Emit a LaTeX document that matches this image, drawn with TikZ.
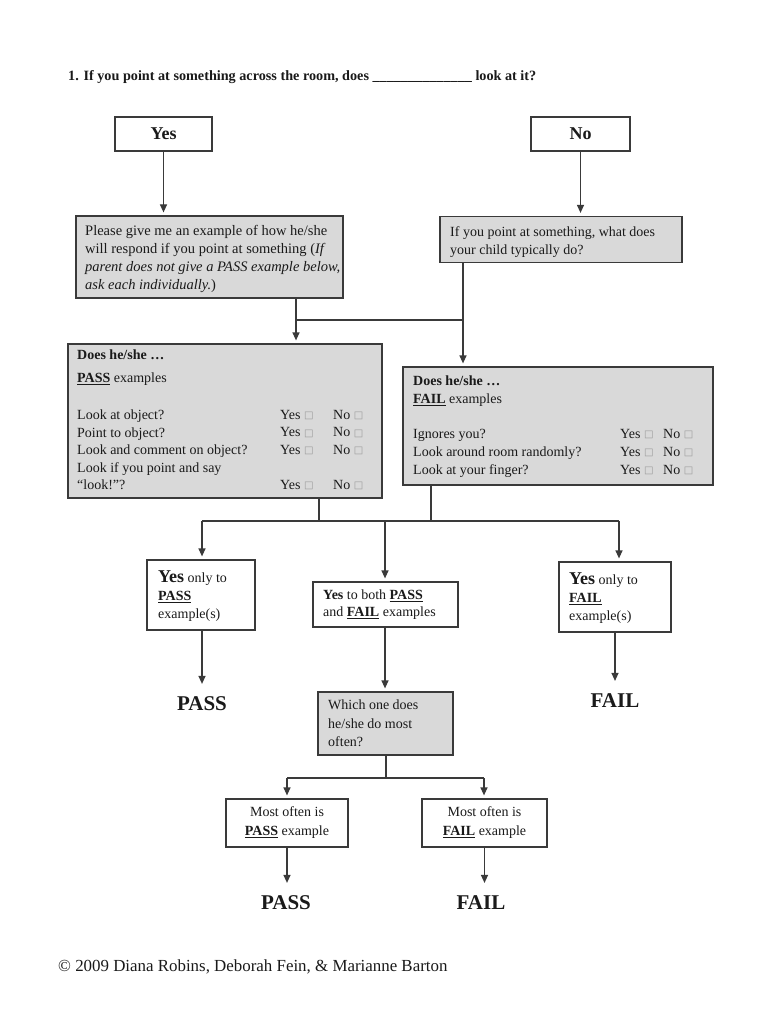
\documentclass[tikz,border=0pt]{standalone}
\usepackage{fontspec}
\setmainfont{Liberation Serif}
\newfontfamily\dvfont{DejaVu Sans}
\usetikzlibrary{arrows.meta}
\definecolor{linec}{HTML}{3A3A3A}
\definecolor{boxgray}{HTML}{D9D9D9}
\definecolor{textc}{HTML}{1A1A1A}
\definecolor{chkc}{HTML}{9A9A9A}
\newcommand\ckbox{\raisebox{0.8pt}{\dvfont\fontsize{10}{10}\selectfont\textcolor{chkc}{□}}}
\newcommand\ulb[1]{\underline{\textbf{#1}}}
\begin{document}
\begin{tikzpicture}[x=1pt,y=-1pt,
 box/.style={draw=linec, line width=1.2pt, fill=white, inner sep=0pt, text=textc},
 gbox/.style={box, fill=boxgray},
 txt/.style={anchor=north west, inner sep=0pt, align=left, text=textc, font=\fontsize{14}{18}\selectfont},
 conn/.style={draw=linec, line width=1.2pt},
 arr/.style={conn, -{Triangle[width=7pt,length=8pt]}, shorten >=3pt},
 farr/.style={arr, shorten >=12pt},
 final/.style={anchor=base, inner sep=0pt, text=textc, font=\bfseries\fontsize{21}{21}\selectfont}
]
\useasboundingbox[fill=white] (0,0) rectangle (768,1024);

% title
\node[anchor=base west, inner sep=0pt, text=textc, font=\bfseries\fontsize{14.2}{16}\selectfont] (title) at (68,81)
 {1. If you point at something across the room, does \_\_\_\_\_\_\_\_\_\_\_\_\_\_ look at it?};

% boxes
\node[box, minimum width=97pt, minimum height=34pt, font=\bfseries\fontsize{18}{18}\selectfont] (yes) at (163.5,134) {Yes};
\node[box, minimum width=99pt, minimum height=34pt, font=\bfseries\fontsize{18}{18}\selectfont] (no) at (580.5,134) {No};
\node[gbox, minimum width=267pt, minimum height=82pt] (A) at (209.5,257) {};
\node[gbox, minimum width=242pt, minimum height=46pt] (B) at (561,239.5) {};
\node[gbox, minimum width=314pt, minimum height=154pt] (C) at (225,421) {};
\node[gbox, minimum width=310pt, minimum height=118pt] (D) at (558,426) {};
\node[box, minimum width=108pt, minimum height=70pt] (E) at (201,595) {};
\node[box, minimum width=145pt, minimum height=45pt] (F) at (385.5,604.5) {};
\node[box, minimum width=112pt, minimum height=70pt] (G) at (615,597) {};
\node[gbox, minimum width=135pt, minimum height=63pt] (H) at (385.5,723.5) {};
\node[box, minimum width=122pt, minimum height=48pt, align=center, font=\fontsize{14}{19}\selectfont] (I) at (287,823) {Most often is\\\ulb{PASS} example};
\node[box, minimum width=125pt, minimum height=48pt, align=center, font=\fontsize{14}{19}\selectfont] (J) at (484.5,823) {Most often is\\\ulb{FAIL} example};

% texts
\node[txt, font=\fontsize{14.5}{18}\selectfont] (At) at (85,225)
 {Please give me an example of how he/she\\will respond if you point at something (\textit{If}\\\textit{parent does not give a PASS example below,}\\\textit{ask each individually.})};
\node[txt] (Bt) at (450,226) {If you point at something, what does\\your child typically do?};

\node[txt] (Ch) at (77,350) {\textbf{Does he/she …}\\[5pt]\ulb{PASS} examples};
\node[txt, font=\fontsize{14}{17.5}\selectfont] (Ci) at (77,410)
 {Look at object?\\Point to object?\\Look and comment on object?\\Look if you point and say\\“look!”?};
\node[txt, font=\fontsize{14}{17.5}\selectfont] (Cy) at (280,410) {Yes \ckbox\\Yes \ckbox\\Yes \ckbox\\[17.5pt]Yes \ckbox};
\node[txt, font=\fontsize{14}{17.5}\selectfont] (Cn) at (333,410) {No \ckbox\\No \ckbox\\No \ckbox\\[17.5pt]No \ckbox};

\node[txt] (Dh) at (413,376) {\textbf{Does he/she …}\\\ulb{FAIL} examples};
\node[txt] (Di) at (413,429) {Ignores you?\\Look around room randomly?\\Look at your finger?};
\node[txt] (Dy) at (620,429) {Yes \ckbox\\Yes \ckbox\\Yes \ckbox};
\node[txt] (Dn) at (663,429) {No \ckbox\\No \ckbox\\No \ckbox};

\node[txt] (Et) at (158,571) {{\fontsize{18}{18}\selectfont\textbf{Yes}} only to\\\ulb{PASS}\\example(s)};
\node[txt, font=\fontsize{14}{17}\selectfont] (Ft) at (323,590) {\textbf{Yes} to both \ulb{PASS}\\and \ulb{FAIL} examples};
\node[txt] (Gt) at (569,573) {{\fontsize{18}{18}\selectfont\textbf{Yes}} only to\\\ulb{FAIL}\\example(s)};
\node[txt, font=\fontsize{14}{18.5}\selectfont] (Ht) at (328,700) {Which one does\\he/she do most\\often?};

% final outcomes
\node[final] (P1) at (202,710) {PASS};
\node[final] (F1) at (615,707) {FAIL};
\node[final] (P2) at (286,909) {PASS};
\node[final] (F2) at (481,909) {FAIL};

% copyright
\node[anchor=base west, inner sep=0pt, text=textc, font=\fontsize{16.9}{18}\selectfont] (copy) at (58,971)
 {© 2009 Diana Robins, Deborah Fein, \& Marianne Barton};

% junction coordinates
\coordinate (ja) at (296,320);
\coordinate (jb) at (463,320);
\coordinate (jc) at (319,521);
\coordinate (jd) at (431,521);
\coordinate (jl) at (202,521);
\coordinate (jm) at (385,521);
\coordinate (jr) at (619,521);
\coordinate (jh) at (386,778);
\coordinate (jl2) at (287,778);
\coordinate (jr2) at (484,778);

% connectors
\draw[arr] (yes.south) -- (yes.south |- A.north);
\draw[arr] (no.south) -- (no.south |- B.north);
\draw[conn] (A.south -| ja) -- (ja);
\draw[arr] (ja) -- (C.north -| ja);
\draw[arr] (B.south -| jb) -- (D.north -| jb);
\draw[conn] (ja) -- (jb);
\draw[conn] (C.south -| jc) -- (jc);
\draw[conn] (D.south -| jd) -- (jd);
\draw[conn] (jl) -- (jr);
\draw[arr] (jl) -- (E.north -| jl);
\draw[arr] (jm) -- (F.north -| jm);
\draw[arr] (jr) -- (G.north -| jr);
\draw[farr] (E.south -| P1) -- (P1.north);
\draw[farr] (G.south) -- (G.south |- F1.north);
\draw[arr] (F.south -| jm) -- (H.north -| jm);
\draw[conn] (H.south -| jh) -- (jh);
\draw[conn] (jl2) -- (jr2);
\draw[arr] (jl2) -- (I.north -| jl2);
\draw[arr] (jr2) -- (J.north -| jr2);
\draw[farr] (I.south) -- (I.south |- P2.north);
\draw[farr] (J.south) -- (J.south |- F2.north);
\end{tikzpicture}
\end{document}
